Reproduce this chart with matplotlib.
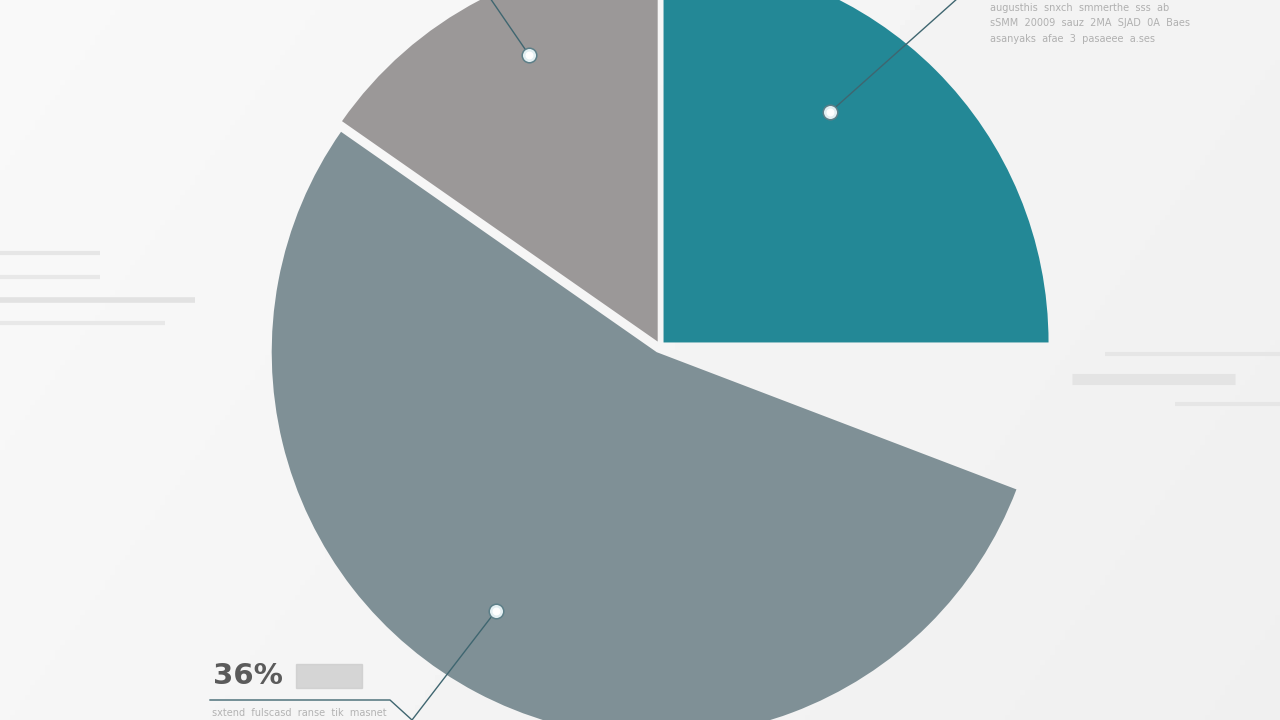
import numpy as np
import matplotlib.pyplot as plt

# slice shares (percent); last one is the empty gap
labels = ['Teal', 'Gray', 'Slate', 'Gap']
shares = [25.0, 15.3, 53.9, 5.8]
colors = ['#238896', '#9b9898', '#7f9096', '#f1f1f1']
big_label = '36%'

W, H = 1280, 720
fig = plt.figure(figsize=(12.8, 7.2), dpi=100)
ax = fig.add_axes([0, 0, 1, 1])

# soft background
gx = np.linspace(0, 1, 256)
gy = np.linspace(0, 1, 144)
GX, GY = np.meshgrid(gx, gy)
bg = 0.965 - 0.025 * GX + 0.01 * GY
ax.imshow(bg, cmap='gray', vmin=0, vmax=1, extent=(0, W, 0, H), origin='lower', aspect='auto', zorder=0)

# faint decoration bars
for y, x0, x1, lw, c in [(253, 0, 100, 3, '#e6e6e6'), (277, 0, 100, 3, '#e8e8e8'),
                          (300, 0, 195, 4, '#e2e2e2'), (323, 0, 165, 3, '#e8e8e8'),
                          (354, 1105, 1280, 3, '#e6e6e6'), (379, 1072, 1235, 8, '#e4e4e4'),
                          (404, 1175, 1280, 3, '#e6e6e6')]:
    ax.plot([x0, x1], [H - y, H - y], color=c, lw=lw, solid_capstyle='butt', zorder=1)

# explode is in data units here (pixels)
cx, cy, r = 660, H - 346, 385
wedges, _ = ax.pie(shares, colors=colors, startangle=0, counterclock=True,
                   center=(cx, cy), radius=r, explode=[5, 5, 7, 0],
                   wedgeprops=dict(linewidth=0))
wedges[3].set_visible(False)
for w in wedges:
    w.set_zorder(2)


def dot_pos(w, frac, rf):
    a = np.deg2rad(w.theta1 + frac * (w.theta2 - w.theta1))
    return cx + rf * r * np.cos(a), cy + rf * r * np.sin(a)


def dot(x, y):
    ax.scatter([x], [y], s=110, color='#e3eff2', edgecolors='#5d7f88', linewidths=1.1, zorder=5)
    ax.scatter([x], [y], s=22, color='white', zorder=6)


line_c = '#3f6670'
# teal
tx, ty = dot_pos(wedges[0], 0.6, 0.75)
ax.plot([tx, 958], [ty, H + 2], color=line_c, lw=1, zorder=4)
dot(tx, ty)
# gray
gx_, gy_ = dot_pos(wedges[1], 0.44, 0.83)
ax.plot([gx_, 490], [gy_, H + 2], color=line_c, lw=1, zorder=4)
dot(gx_, gy_)
# slate
sx, sy = dot_pos(wedges[2], 0.48, 0.81)
ax.plot([sx, 412, 390, 210], [sy, H - 720, H - 700, H - 700], color=line_c, lw=1, zorder=4)
dot(sx, sy)

# texts
ax.text(213, H - 676, big_label, fontsize=21, fontweight='heavy', color='#5b5b5b',
        va='center', ha='left', family='DejaVu Sans', zorder=6)
ax.add_patch(plt.Rectangle((296, H - 688), 66, 24, color='#cdcdcd', alpha=0.8, zorder=6))
ax.text(212, H - 713, 'sxtend  fulscasd  ranse  tik  masnet', fontsize=7, color='#b3b3b3',
        va='center', ha='left', zorder=6)
top_lines = ['augusthis  snxch  smmerthe  sss  ab',
             'sSMM  20009  sauz  2MA  SJAD  0A  Baes',
             'asanyaks  afae  3  pasaeee  a.ses']
for i, t in enumerate(top_lines):
    ax.text(990, H - 8 - 15.5 * i, t, fontsize=7, color='#b0b0b0', va='center', ha='left', zorder=6)

ax.set_xlim(0, W)
ax.set_ylim(0, H)
ax.set_aspect('auto')
ax.axis('off')
fig.savefig('out.png', dpi=100)
